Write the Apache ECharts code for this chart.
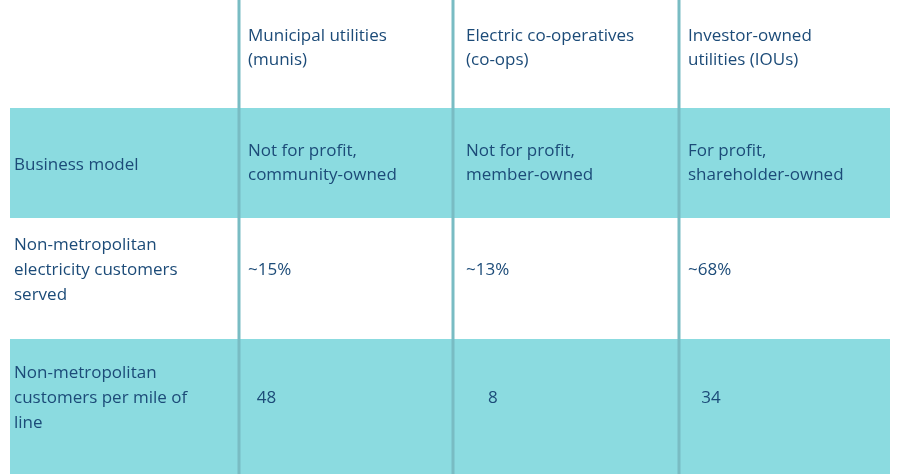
<!DOCTYPE html>
<html>
<head>
<meta charset="utf-8">
<script src="https://cdn.jsdelivr.net/npm/echarts@6/dist/echarts.min.js"></script>
<style>html,body{margin:0;padding:0;background:#fff}#chart{width:900px;height:474px}</style>
</head>
<body>
<div id="chart"></div>
<script>
const headers = ['Municipal utilities\n(munis)', 'Electric co-operatives\n(co-ops)', 'Investor-owned\nutilities (IOUs)'];
const rowLabels = ['Business model', 'Non-metropolitan\nelectricity customers\nserved', 'Non-metropolitan\ncustomers per mile of\nline'];
const cells = [
    ['Not for profit,\ncommunity-owned', 'Not for profit,\nmember-owned', 'For profit,\nshareholder-owned'],
    ['~15%', '~13%', '~68%'],
    ['  48', '     8', '   34']
];

const chart = echarts.init(document.getElementById('chart'));
const textColor = '#1c4b78';
const font = '17px "Open Sans", sans-serif';
const colX = [248, 466, 688];
const lineX = [239, 453, 679];
const rows = [{y: 108, h: 110, fill: true}, {y: 218, h: 121, fill: false}, {y: 339, h: 135, fill: true}];

const elements = [];
rows.forEach(function (r) {
    if (r.fill) {
        elements.push({type: 'rect', shape: {x: 10, y: r.y, width: 880, height: r.h}, style: {fill: '#8bdbe0'}});
    }
});
lineX.forEach(function (x) {
    elements.push({type: 'rect', shape: {x: x - 1.5, y: 0, width: 3, height: 474}, style: {fill: '#79bcc3'}});
});
headers.forEach(function (t, i) {
    elements.push({type: 'text', x: colX[i], y: 48, style: {text: t, font: font, fill: textColor, lineHeight: 24, verticalAlign: 'middle'}});
});
rowLabels.forEach(function (t, i) {
    const cy = rows[i].y + rows[i].h / 2 + (i === 0 ? 2 : -8);
    elements.push({type: 'text', x: 14, y: cy, style: {text: t, font: font, fill: textColor, lineHeight: 25, verticalAlign: 'middle'}});
    cells[i].forEach(function (c, j) {
        elements.push({type: 'text', x: colX[j], y: cy + (i === 0 ? -2 : 0), style: {text: c, font: font, fill: textColor, lineHeight: 24, verticalAlign: 'middle', whiteSpace: 'pre'}});
    });
});

chart.setOption({animation: false, graphic: {elements: elements}});
</script>
</body>
</html>
